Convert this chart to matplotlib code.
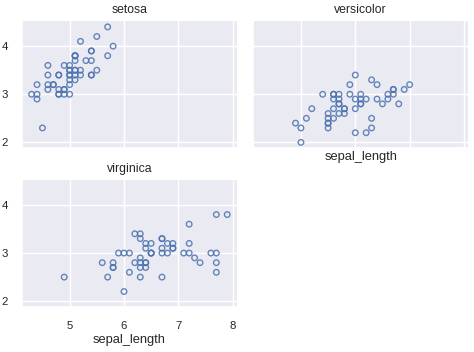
import matplotlib
matplotlib.use("Agg")
import matplotlib.pyplot as plt
import seaborn as sns
import pandas as pd

setosa_len = [5.1,4.9,4.7,4.6,5.0,5.4,4.6,5.0,4.4,4.9,5.4,4.8,4.8,4.3,5.8,5.7,5.4,5.1,5.7,5.1,
              5.4,5.1,4.6,5.1,4.8,5.0,5.0,5.2,5.2,4.7,4.8,5.4,5.2,5.5,4.9,5.0,5.5,4.9,4.4,5.1,
              5.0,4.5,4.4,5.0,5.1,4.8,5.1,4.6,5.3,5.0]
setosa_wid = [3.5,3.0,3.2,3.1,3.6,3.9,3.4,3.4,2.9,3.1,3.7,3.4,3.0,3.0,4.0,4.4,3.9,3.5,3.8,3.8,
              3.4,3.7,3.6,3.3,3.4,3.0,3.4,3.5,3.4,3.2,3.1,3.4,4.1,4.2,3.1,3.2,3.5,3.6,3.0,3.4,
              3.5,2.3,3.2,3.5,3.8,3.0,3.8,3.2,3.7,3.3]
versicolor_len = [7.0,6.4,6.9,5.5,6.5,5.7,6.3,4.9,6.6,5.2,5.0,5.9,6.0,6.1,5.6,6.7,5.6,5.8,6.2,5.6,
                  5.9,6.1,6.3,6.1,6.4,6.6,6.8,6.7,6.0,5.7,5.5,5.5,5.8,6.0,5.4,6.0,6.7,6.3,5.6,5.5,
                  5.5,6.1,5.8,5.0,5.6,5.7,5.7,6.2,5.1,5.7]
versicolor_wid = [3.2,3.2,3.1,2.3,2.8,2.8,3.3,2.4,2.9,2.7,2.0,3.0,2.2,2.9,2.9,3.1,3.0,2.7,2.2,2.5,
                  3.2,2.8,2.5,2.8,2.9,3.0,2.8,3.0,2.9,2.6,2.4,2.4,2.7,2.7,3.0,3.4,3.1,2.3,3.0,2.5,
                  2.6,3.0,2.6,2.3,2.7,3.0,2.9,2.9,2.5,2.8]
virginica_len = [6.3,5.8,7.1,6.3,6.5,7.6,4.9,7.3,6.7,7.2,6.5,6.4,6.8,5.7,5.8,6.4,6.5,7.7,7.7,6.0,
                 6.9,5.6,7.7,6.3,6.7,7.2,6.2,6.1,6.4,7.2,7.4,7.9,6.4,6.3,6.1,7.7,6.3,6.4,6.0,6.9,
                 6.7,6.9,5.8,6.8,6.7,6.7,6.3,6.5,6.2,5.9]
virginica_wid = [3.3,2.7,3.0,2.9,3.0,3.0,2.5,2.9,2.5,3.6,3.2,2.7,3.0,2.5,2.8,3.2,3.0,3.8,2.6,2.2,
                 3.2,2.8,2.8,2.7,3.3,3.2,2.8,3.0,2.8,3.0,2.8,3.8,2.8,2.8,2.6,3.0,3.4,3.1,3.0,3.1,
                 3.1,3.1,2.7,3.2,3.3,3.0,2.5,3.0,3.4,3.0]
species_names = ["setosa", "versicolor", "virginica"]

df = pd.DataFrame({
    "sepal_length": setosa_len + versicolor_len + virginica_len,
    "sepal_width": setosa_wid + versicolor_wid + virginica_wid,
    "species": [species_names[0]] * len(setosa_len) + [species_names[1]] * len(versicolor_len)
               + [species_names[2]] * len(virginica_len),
})

sns.set_theme(style="darkgrid", font_scale=1.0)
plt.rcParams["font.family"] = ["Arial", "Liberation Sans", "DejaVu Sans"]

g = sns.FacetGrid(df, col="species", col_wrap=2, col_order=species_names,
                  height=1.76, aspect=1.35, sharex=True, sharey=True)
g.map(plt.scatter, "sepal_length", "sepal_width", s=16, facecolors="none",
      edgecolors="#4c72b0", linewidths=1.0, alpha=0.85)
g.set_titles("{col_name}", size=8.8)
g.set_ylabels("")
g.set_xlabels("sepal_length", size=9.3, labelpad=2)
for ax in g.axes.flat:
    ax.tick_params(labelsize=8.2, pad=4)
    ax.set_yticks([2, 3, 4])
    ax.set_xticks([5, 6, 7, 8])
g.axes.flat[1].tick_params(labelbottom=False)
g.figure.set_size_inches(4.74, 3.52)
g.figure.subplots_adjust(left=0.046, right=0.988, top=0.94, bottom=0.128, wspace=0.075, hspace=0.25)
g.figure.savefig("out.png", dpi=100)
